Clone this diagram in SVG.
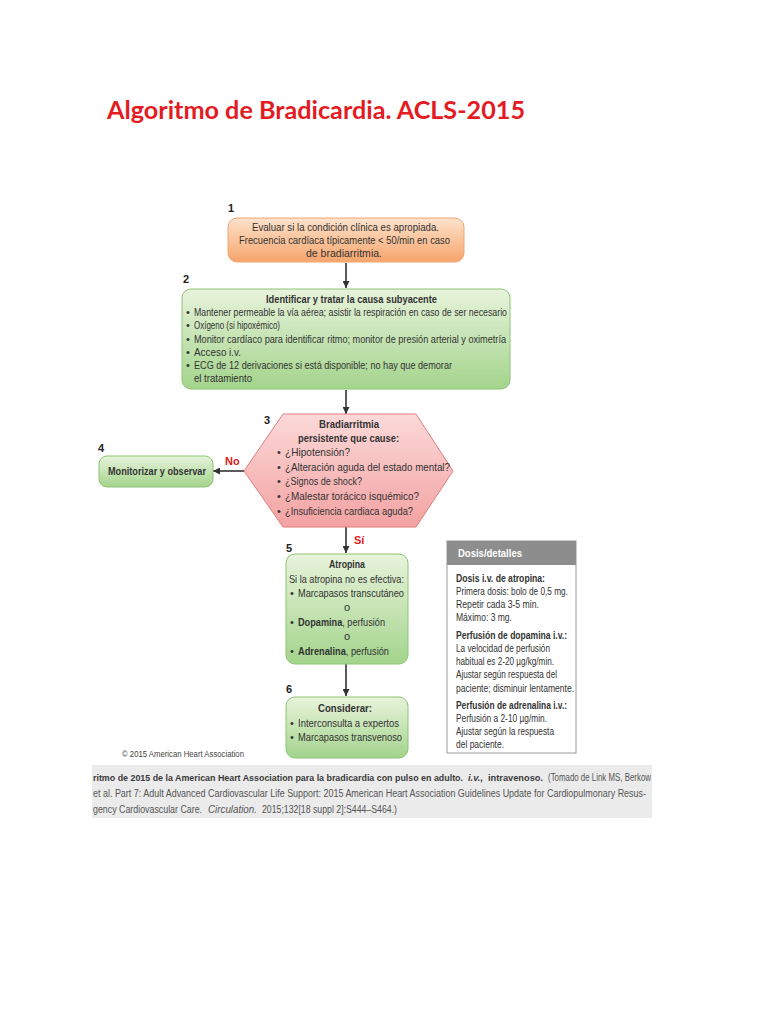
<svg xmlns="http://www.w3.org/2000/svg" width="768" height="1024" viewBox="0 0 768 1024">
<defs>
<linearGradient id="gOr" x1="0" y1="0" x2="0" y2="1"><stop offset="0" stop-color="#fde3cc"/><stop offset="1" stop-color="#f6a46c"/></linearGradient>
<linearGradient id="gGr" x1="0" y1="0" x2="0" y2="1"><stop offset="0" stop-color="#e8f3db"/><stop offset="1" stop-color="#a3d48c"/></linearGradient>
<linearGradient id="gPk" x1="0" y1="0" x2="0" y2="1"><stop offset="0" stop-color="#fcd9d9"/><stop offset="1" stop-color="#f3a2a2"/></linearGradient>
<marker id="ah" viewBox="0 0 10 10" refX="10" refY="5" markerWidth="7" markerHeight="7" markerUnits="userSpaceOnUse" orient="auto"><path d="M0,0 L10,5 L0,10 z" fill="#333"/></marker>
</defs>
<style>
.t{font-family:"Liberation Sans Narrow","Liberation Sans",Arial,sans-serif;font-size:11px;fill:#333}
.b{font-weight:bold}
.n{font-family:"Liberation Sans",Arial,sans-serif;font-size:11px;font-weight:bold;fill:#222}
.red{font-family:"Liberation Sans",Arial,sans-serif;font-size:11px;font-weight:bold;fill:#e0201b}
.c{font-family:"Liberation Sans Narrow","Liberation Sans",sans-serif;font-size:10px;fill:#555}
.cs{font-size:9.6px}
.cb{font-weight:bold;fill:#3a3a3a}
.ci{font-style:italic}
.conn{stroke:#333;stroke-width:1.6;fill:none}
</style>
<rect width="768" height="1024" fill="#fff"/>
<text x="107" y="119" font-family="Lato,'Open Sans',sans-serif" font-size="25" font-weight="bold" fill="#e31b23" textLength="418" lengthAdjust="spacingAndGlyphs">Algoritmo de Bradicardia. ACLS-2015</text>

<g id="connectors">
<line class="conn" x1="346" y1="263" x2="346" y2="288" marker-end="url(#ah)"/>
<line class="conn" x1="346" y1="390" x2="346" y2="414" marker-end="url(#ah)"/>
<line class="conn" x1="244" y1="471" x2="213" y2="471" marker-end="url(#ah)"/>
<line class="conn" x1="346" y1="527" x2="346" y2="553" marker-end="url(#ah)"/>
<line class="conn" x1="346" y1="664" x2="346" y2="696" marker-end="url(#ah)"/>
<text class="red" x="225" y="465">No</text>
<text class="red" x="354" y="544">Sí</text>
</g>

<g id="node1">
<text class="n" x="228" y="212">1</text>
<rect x="228" y="218" width="236" height="44" rx="9" fill="url(#gOr)" stroke="#eea676" stroke-width="1"/>
<text class="t" x="252" y="231" textLength="187" lengthAdjust="spacingAndGlyphs">Evaluar si la condición clínica es apropiada.</text>
<text class="t" x="239" y="244" textLength="211" lengthAdjust="spacingAndGlyphs">Frecuencia cardíaca típicamente &lt; 50/min en caso</text>
<text class="t" x="306" y="257" textLength="76" lengthAdjust="spacingAndGlyphs">de bradiarritmia.</text>
</g>

<g id="node2">
<text class="n" x="183" y="283">2</text>
<rect x="182" y="289" width="328" height="100" rx="9" fill="url(#gGr)" stroke="#8cc474" stroke-width="1"/>
<text class="t b" x="266" y="303" textLength="171" lengthAdjust="spacingAndGlyphs">Identificar y tratar la causa subyacente</text>
<text class="t" x="186" y="316">•</text><text class="t" x="194" y="316" textLength="313" lengthAdjust="spacingAndGlyphs">Mantener permeable la vía aérea; asistir la respiración en caso de ser necesario</text>
<text class="t" x="186" y="329">•</text><text class="t" x="194" y="329" textLength="86" lengthAdjust="spacingAndGlyphs">Oxígeno (si hipoxémico)</text>
<text class="t" x="186" y="343">•</text><text class="t" x="194" y="343" textLength="312" lengthAdjust="spacingAndGlyphs">Monitor cardíaco para identificar ritmo; monitor de presión arterial y oximetría</text>
<text class="t" x="186" y="356">•</text><text class="t" x="194" y="356" textLength="47" lengthAdjust="spacingAndGlyphs">Acceso i.v.</text>
<text class="t" x="186" y="369">•</text><text class="t" x="194" y="369" textLength="258" lengthAdjust="spacingAndGlyphs">ECG de 12 derivaciones si está disponible; no hay que demorar</text>
<text class="t" x="194" y="382" textLength="58" lengthAdjust="spacingAndGlyphs">el tratamiento</text>
</g>

<g id="node3">
<text class="n" x="264" y="424">3</text>
<polygon points="244,471 283,414 416,414 453,471 416,527 283,527" fill="url(#gPk)" stroke="#e27c7c" stroke-width="1"/>
<text class="t b" x="319" y="428" textLength="60" lengthAdjust="spacingAndGlyphs">Bradiarritmia</text>
<text class="t b" x="298" y="442" textLength="101" lengthAdjust="spacingAndGlyphs">persistente que cause:</text>
<text class="t" x="277" y="456">•</text><text class="t" x="285" y="456" textLength="65" lengthAdjust="spacingAndGlyphs">¿Hipotensión?</text>
<text class="t" x="277" y="471">•</text><text class="t" x="285" y="471" textLength="165" lengthAdjust="spacingAndGlyphs">¿Alteración aguda del estado mental?</text>
<text class="t" x="277" y="485">•</text><text class="t" x="285" y="485" textLength="77" lengthAdjust="spacingAndGlyphs">¿Signos de shock?</text>
<text class="t" x="277" y="500">•</text><text class="t" x="285" y="500" textLength="134" lengthAdjust="spacingAndGlyphs">¿Malestar torácico isquémico?</text>
<text class="t" x="277" y="515">•</text><text class="t" x="285" y="515" textLength="128" lengthAdjust="spacingAndGlyphs">¿Insuficiencia cardiaca aguda?</text>
</g>

<g id="node4">
<text class="n" x="98" y="452">4</text>
<rect x="99" y="456" width="114" height="31" rx="8" fill="url(#gGr)" stroke="#8cc474" stroke-width="1"/>
<text class="t b" x="108" y="475" textLength="98" lengthAdjust="spacingAndGlyphs">Monitorizar y observar</text>
</g>

<g id="node5">
<text class="n" x="286" y="552">5</text>
<rect x="286" y="554" width="122" height="110" rx="9" fill="url(#gGr)" stroke="#8cc474" stroke-width="1"/>
<text class="t b" x="329" y="568" textLength="36" lengthAdjust="spacingAndGlyphs">Atropina</text>
<text class="t" x="289" y="583" textLength="115" lengthAdjust="spacingAndGlyphs">Si la atropina no es efectiva:</text>
<text class="t" x="290" y="597">•</text><text class="t" x="298" y="597" textLength="106" lengthAdjust="spacingAndGlyphs">Marcapasos transcutáneo</text>
<text class="t" x="344" y="611">o</text>
<text class="t" x="290" y="626">•</text><text class="t" x="298" y="626" textLength="87" lengthAdjust="spacingAndGlyphs"><tspan class="b">Dopamina</tspan>, perfusión</text>
<text class="t" x="344" y="640">o</text>
<text class="t" x="290" y="655">•</text><text class="t" x="298" y="655" textLength="91" lengthAdjust="spacingAndGlyphs"><tspan class="b">Adrenalina</tspan>, perfusión</text>
</g>

<g id="node6">
<text class="n" x="286" y="693">6</text>
<rect x="286" y="697" width="122" height="61" rx="9" fill="url(#gGr)" stroke="#8cc474" stroke-width="1"/>
<text class="t b" x="318" y="712" textLength="54" lengthAdjust="spacingAndGlyphs">Considerar:</text>
<text class="t" x="290" y="727">•</text><text class="t" x="298" y="727" textLength="101" lengthAdjust="spacingAndGlyphs">Interconsulta a expertos</text>
<text class="t" x="290" y="741">•</text><text class="t" x="298" y="741" textLength="104" lengthAdjust="spacingAndGlyphs">Marcapasos transvenoso</text>
</g>

<g id="dosis">
<rect x="447" y="541" width="129" height="212" fill="#fff" stroke="#9a9a9a" stroke-width="1"/>
<rect x="447" y="541" width="129" height="24" fill="#8d8d8d"/>
<text class="t b" x="458" y="557" style="fill:#fff" textLength="64" lengthAdjust="spacingAndGlyphs">Dosis/detalles</text>
<text class="t b" x="456" y="582" textLength="89" lengthAdjust="spacingAndGlyphs">Dosis i.v. de atropina:</text>
<text class="t" x="456" y="595" textLength="112" lengthAdjust="spacingAndGlyphs">Primera dosis: bolo de 0,5 mg.</text>
<text class="t" x="456" y="608" textLength="83" lengthAdjust="spacingAndGlyphs">Repetir cada 3-5 min.</text>
<text class="t" x="456" y="621" textLength="56" lengthAdjust="spacingAndGlyphs">Máximo: 3 mg.</text>
<text class="t b" x="456" y="639" textLength="111" lengthAdjust="spacingAndGlyphs">Perfusión de dopamina i.v.:</text>
<text class="t" x="456" y="652" textLength="94" lengthAdjust="spacingAndGlyphs">La velocidad de perfusión</text>
<text class="t" x="456" y="665" textLength="98" lengthAdjust="spacingAndGlyphs">habitual es 2-20 µg/kg/min.</text>
<text class="t" x="456" y="678" textLength="101" lengthAdjust="spacingAndGlyphs">Ajustar según respuesta del</text>
<text class="t" x="456" y="692" textLength="118" lengthAdjust="spacingAndGlyphs">paciente; disminuir lentamente.</text>
<text class="t b" x="456" y="709" textLength="111" lengthAdjust="spacingAndGlyphs">Perfusión de adrenalina i.v.:</text>
<text class="t" x="456" y="722" textLength="91" lengthAdjust="spacingAndGlyphs">Perfusión a 2-10 µg/min.</text>
<text class="t" x="456" y="735" textLength="98" lengthAdjust="spacingAndGlyphs">Ajustar según la respuesta</text>
<text class="t" x="456" y="748" textLength="48" lengthAdjust="spacingAndGlyphs">del paciente.</text>
</g>

<text x="122" y="757" font-family="'Liberation Sans',Arial,sans-serif" font-size="8.5" fill="#444" textLength="122" lengthAdjust="spacingAndGlyphs">© 2015 American Heart Association</text>

<g id="caption">
<rect x="92" y="765" width="560" height="53" fill="#ebebeb"/>
<text class="c cs cb" x="93" y="781" textLength="370" lengthAdjust="spacingAndGlyphs">ritmo de 2015 de la American Heart Association para la bradicardia con pulso en adulto.</text>
<text class="c cs cb ci" x="468" y="781" textLength="15" lengthAdjust="spacingAndGlyphs">i.v.,</text>
<text class="c cs cb" x="488" y="781" textLength="55" lengthAdjust="spacingAndGlyphs">intravenoso.</text>
<text class="c" x="548" y="781" textLength="103" lengthAdjust="spacingAndGlyphs">(Tomado de Link MS, Berkow</text>
<text class="c" x="93" y="797" textLength="553" lengthAdjust="spacingAndGlyphs">et al. Part 7: Adult Advanced Cardiovascular Life Support: 2015 American Heart Association Guidelines Update for Cardiopulmonary Resus-</text>
<text class="c" x="93" y="813" textLength="109" lengthAdjust="spacingAndGlyphs">gency Cardiovascular Care.</text>
<text class="c ci" x="208" y="813" textLength="49" lengthAdjust="spacingAndGlyphs">Circulation.</text>
<text class="c" x="262" y="813" textLength="135" lengthAdjust="spacingAndGlyphs">2015;132[18 suppl 2]:S444–S464.)</text>
</g>
</svg>
